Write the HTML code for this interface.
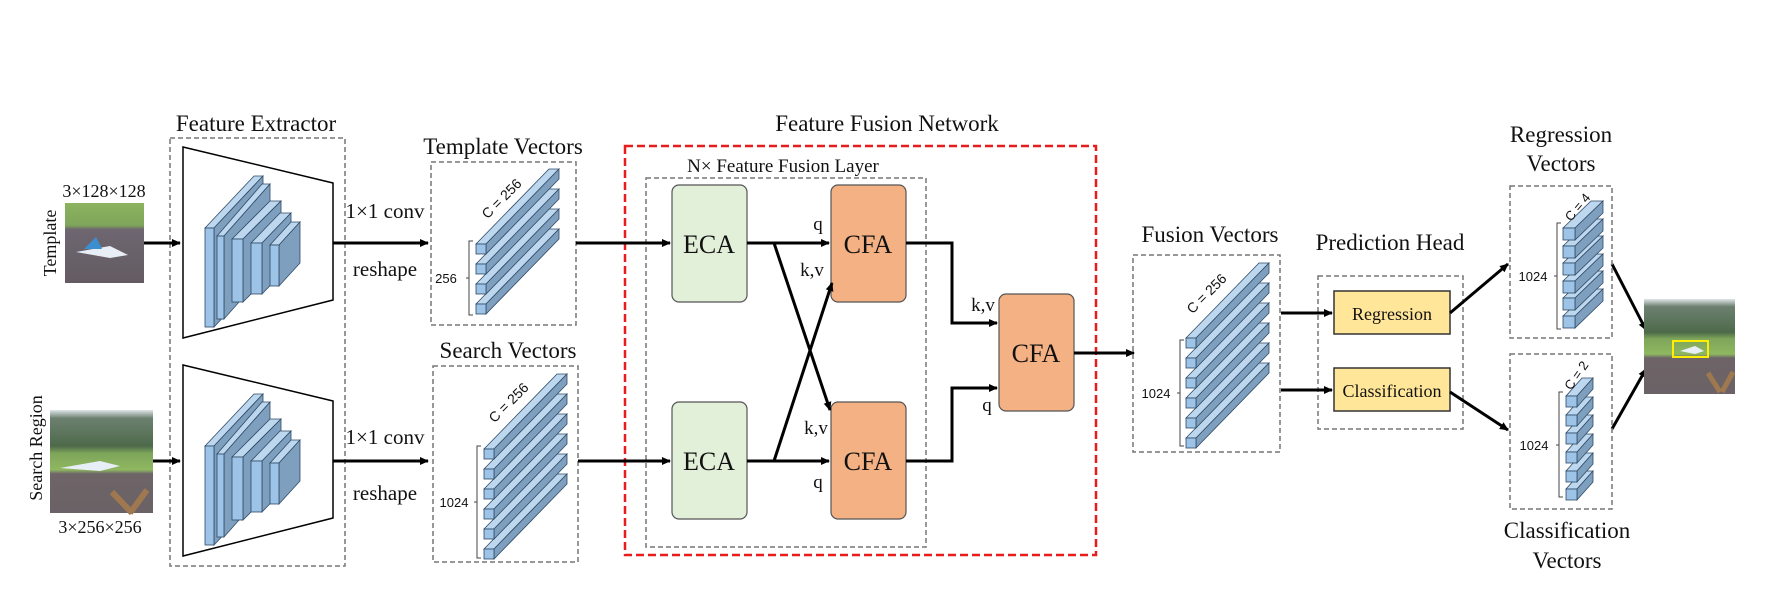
<!DOCTYPE html>
<html><head><meta charset="utf-8"><style>
html,body{margin:0;padding:0;background:#fff;}
svg{display:block;}
.t{font-family:"Liberation Serif",serif;fill:#111;}
.s{font-family:"Liberation Sans",sans-serif;fill:#111;}
</style></head><body>
<svg width="1768" height="603" viewBox="0 0 1768 603" xmlns="http://www.w3.org/2000/svg">
<defs>
<marker id="ah" markerWidth="10" markerHeight="10" refX="8" refY="5" orient="auto" markerUnits="userSpaceOnUse">
<path d="M0,1 L9,5 L0,9 z" fill="#000"/></marker>
<g id="bar">
<path d="M0,0 L73,-75 L83,-75 L10,0 z" fill="#bdd7ee" stroke="#2e4a66" stroke-width="0.8"/>
<path d="M10,0 L83,-75 L83,-65 L10,10 z" fill="#7f9fbf" stroke="#2e4a66" stroke-width="0.8"/>
<rect x="0" y="0" width="10" height="10" fill="#9dc3e6" stroke="#2e4a66" stroke-width="0.8"/>
</g>
<g id="bar4">
<path d="M0,0 L28,-27 L40,-27 L12,0 z" fill="#bdd7ee" stroke="#2e4a66" stroke-width="0.8"/>
<path d="M12,0 L40,-27 L40,-15 L12,12 z" fill="#7f9fbf" stroke="#2e4a66" stroke-width="0.8"/>
<rect x="0" y="0" width="12" height="12" fill="#9dc3e6" stroke="#2e4a66" stroke-width="0.8"/>
</g>
<g id="bar2">
<path d="M0,0 L16,-18 L27,-18 L11,0 z" fill="#bdd7ee" stroke="#2e4a66" stroke-width="0.8"/>
<path d="M11,0 L27,-18 L27,-7 L11,11 z" fill="#7f9fbf" stroke="#2e4a66" stroke-width="0.8"/>
<rect x="0" y="0" width="11" height="11" fill="#9dc3e6" stroke="#2e4a66" stroke-width="0.8"/>
</g>
<g id="cnn">
<path d="M183,147 L333,183 L333,300 L183,338 z" fill="#fff" stroke="#000" stroke-width="1.5"/>
<g stroke="#2e4a66" stroke-width="0.8">
<path d="M205,228 L254,176 L263,176 L214,228z" fill="#bdd7ee"/><path d="M214,228 L263,176 L263,275 L214,327z" fill="#7f9fbf"/><rect x="205" y="228" width="9" height="99" fill="#9dc3e6"/>
<path d="M217,236 L262,184 L270,184 L224,236z" fill="#bdd7ee"/><path d="M224,236 L270,184 L270,267 L224,319z" fill="#7f9fbf"/><rect x="217" y="236" width="7" height="83" fill="#9dc3e6"/>
<path d="M232,239 L270,201 L281,201 L243,239z" fill="#bdd7ee"/><path d="M243,239 L281,201 L281,264 L243,302z" fill="#7f9fbf"/><rect x="232" y="239" width="11" height="63" fill="#9dc3e6"/>
<path d="M251,243 L280,213 L291,213 L262,243z" fill="#bdd7ee"/><path d="M262,243 L291,213 L291,264 L262,294z" fill="#7f9fbf"/><rect x="251" y="243" width="11" height="51" fill="#9dc3e6"/>
<path d="M270,245 L291,222 L300,222 L279,245z" fill="#bdd7ee"/><path d="M279,245 L300,222 L300,263 L279,286z" fill="#7f9fbf"/><rect x="270" y="245" width="9" height="41" fill="#9dc3e6"/>
</g>
</g>
<linearGradient id="sky" x1="0" y1="0" x2="0" y2="1">
<stop offset="0" stop-color="#dfe6e8"/><stop offset="0.08" stop-color="#6d8070"/><stop offset="0.35" stop-color="#4d6a4a"/><stop offset="0.42" stop-color="#7ea55a"/><stop offset="0.58" stop-color="#8fb860"/><stop offset="0.62" stop-color="#6e6468"/><stop offset="1" stop-color="#6a6266"/></linearGradient>
<linearGradient id="tpl" x1="0" y1="0" x2="0" y2="1">
<stop offset="0" stop-color="#8db35f"/><stop offset="0.28" stop-color="#7ea55a"/><stop offset="0.33" stop-color="#6e6670"/><stop offset="1" stop-color="#645c62"/></linearGradient>
</defs>

<text class="t" x="256" y="131" font-size="23" text-anchor="middle">Feature Extractor</text>
<rect x="170" y="138" width="175" height="428" fill="none" stroke="#777" stroke-width="1.5" stroke-dasharray="5,3"/>
<use href="#cnn"/>
<use href="#cnn" transform="translate(0,218)"/>

<text class="t" x="104" y="197" font-size="18" text-anchor="middle">3×128×128</text>
<rect x="65" y="203" width="79" height="80" fill="url(#tpl)"/>
<path d="M76,252 L110,246 L128,255 L110,258 z" fill="#e8eef5"/><path d="M84,249 L96,237 L102,249 z" fill="#3b8fd0"/>
<text class="t" font-size="18" text-anchor="middle" transform="translate(56,243) rotate(-90)">Template</text>
<rect x="50" y="410" width="103" height="103" fill="url(#sky)"/>
<path d="M60,468 L100,461 L120,466 L100,471 z" fill="#e8eef5"/>
<path d="M112,492 L132,513 M147,490 L130,513" stroke="#a07850" stroke-width="6"/>
<text class="t" font-size="18" text-anchor="middle" transform="translate(42,448) rotate(-90)">Search Region</text>
<text class="t" x="100" y="533" font-size="18" text-anchor="middle">3×256×256</text>

<g stroke="#000" stroke-width="3" fill="none">
<line x1="144" y1="243" x2="180" y2="243" marker-end="url(#ah)"/>
<line x1="153" y1="461" x2="180" y2="461" marker-end="url(#ah)"/>
<line x1="333" y1="243" x2="428" y2="243" marker-end="url(#ah)"/>
<line x1="333" y1="461" x2="428" y2="461" marker-end="url(#ah)"/>
</g>
<text class="t" x="385" y="218" font-size="21" text-anchor="middle">1×1 conv</text>
<text class="t" x="385" y="276" font-size="21" text-anchor="middle">reshape</text>
<text class="t" x="385" y="444" font-size="21" text-anchor="middle">1×1 conv</text>
<text class="t" x="385" y="500" font-size="21" text-anchor="middle">reshape</text>

<text class="t" x="503" y="154" font-size="23" text-anchor="middle">Template Vectors</text>
<rect x="431" y="162" width="145" height="163" fill="none" stroke="#777" stroke-width="1.5" stroke-dasharray="5,3"/>
<use href="#bar" transform="translate(476,304)"/><use href="#bar" transform="translate(476,284)"/><use href="#bar" transform="translate(476,264)"/><use href="#bar" transform="translate(476,244)"/>
<path d="M473,241 L469,241 L469,315 L473,315 M466,278 L469,278" stroke="#444" stroke-width="1" fill="none"/>
<text class="s" x="446" y="283" font-size="13" text-anchor="middle">256</text>
<text class="s" font-size="14" text-anchor="middle" transform="translate(505,202) rotate(-45)">C = 256</text>

<text class="t" x="508" y="358" font-size="23" text-anchor="middle">Search Vectors</text>
<rect x="433" y="366" width="145" height="196" fill="none" stroke="#777" stroke-width="1.5" stroke-dasharray="5,3"/>
<use href="#bar" transform="translate(484,549)"/><use href="#bar" transform="translate(484,529)"/><use href="#bar" transform="translate(484,509)"/><use href="#bar" transform="translate(484,489)"/><use href="#bar" transform="translate(484,469)"/><use href="#bar" transform="translate(484,449)"/>
<path d="M481,446 L477,446 L477,558 L481,558 M474,502 L477,502" stroke="#444" stroke-width="1" fill="none"/>
<text class="s" x="454" y="507" font-size="13" text-anchor="middle">1024</text>
<text class="s" font-size="14" text-anchor="middle" transform="translate(512,406) rotate(-45)">C = 256</text>

<text class="t" x="887" y="131" font-size="23" text-anchor="middle">Feature Fusion Network</text>
<rect x="625" y="146" width="471" height="409" fill="none" stroke="#e81c1c" stroke-width="2.5" stroke-dasharray="8,4"/>
<rect x="646" y="178" width="280" height="369" fill="none" stroke="#777" stroke-width="1.5" stroke-dasharray="5,3"/>
<text class="t" x="783" y="172" font-size="19" text-anchor="middle">N× Feature Fusion Layer</text>
<g stroke="#555" stroke-width="1.2">
<rect x="672" y="185" width="75" height="117" rx="7" fill="#e2efd9"/>
<rect x="672" y="402" width="75" height="117" rx="7" fill="#e2efd9"/>
<rect x="831" y="185" width="75" height="117" rx="7" fill="#f4b183"/>
<rect x="831" y="402" width="75" height="117" rx="7" fill="#f4b183"/>
<rect x="999" y="294" width="75" height="117" rx="7" fill="#f4b183"/>
</g>
<g class="t" font-size="26" text-anchor="middle">
<text x="709" y="253">ECA</text><text x="709" y="470">ECA</text>
<text x="868" y="253">CFA</text><text x="868" y="470">CFA</text>
<text x="1036" y="362">CFA</text>
</g>
<g stroke="#000" stroke-width="3" fill="none">
<line x1="576" y1="243" x2="670" y2="243" marker-end="url(#ah)"/>
<line x1="578" y1="461" x2="670" y2="461" marker-end="url(#ah)"/>
<line x1="747" y1="243" x2="829" y2="243" marker-end="url(#ah)"/>
<line x1="747" y1="461" x2="829" y2="461" marker-end="url(#ah)"/>
<line x1="774" y1="243" x2="830" y2="410" marker-end="url(#ah)"/>
<line x1="774" y1="461" x2="832" y2="283" marker-end="url(#ah)"/>
<polyline points="906,243 952,243 952,323 997,323" marker-end="url(#ah)"/>
<polyline points="906,461 952,461 952,388 997,388" marker-end="url(#ah)"/>
<line x1="1074" y1="353" x2="1134" y2="353" marker-end="url(#ah)"/>
</g>
<g class="t" font-size="19" text-anchor="middle">
<text x="818" y="230">q</text><text x="812" y="276">k,v</text>
<text x="816" y="434">k,v</text><text x="818" y="488">q</text>
<text x="983" y="311">k,v</text><text x="987" y="411">q</text>
</g>

<text class="t" x="1210" y="242" font-size="23" text-anchor="middle">Fusion Vectors</text>
<rect x="1133" y="255" width="147" height="197" fill="none" stroke="#777" stroke-width="1.5" stroke-dasharray="5,3"/>
<use href="#bar" transform="translate(1186,438)"/><use href="#bar" transform="translate(1186,418)"/><use href="#bar" transform="translate(1186,398)"/><use href="#bar" transform="translate(1186,378)"/><use href="#bar" transform="translate(1186,358)"/><use href="#bar" transform="translate(1186,338)"/>
<path d="M1184,340 L1180,340 L1180,446 L1184,446 M1177,393 L1180,393" stroke="#444" stroke-width="1" fill="none"/>
<text class="s" x="1156" y="398" font-size="13" text-anchor="middle">1024</text>
<text class="s" font-size="14" text-anchor="middle" transform="translate(1210,297) rotate(-45)">C = 256</text>

<text class="t" x="1390" y="250" font-size="23" text-anchor="middle">Prediction Head</text>
<rect x="1318" y="276" width="145" height="153" fill="none" stroke="#777" stroke-width="1.5" stroke-dasharray="5,3"/>
<rect x="1334" y="291" width="116" height="43" fill="#ffe699" stroke="#333" stroke-width="1.5"/>
<rect x="1334" y="368" width="116" height="43" fill="#ffe699" stroke="#333" stroke-width="1.5"/>
<text class="t" x="1392" y="320" font-size="18" text-anchor="middle">Regression</text>
<text class="t" x="1392" y="397" font-size="18" text-anchor="middle">Classification</text>
<g stroke="#000" stroke-width="3" fill="none">
<line x1="1281" y1="313" x2="1332" y2="313" marker-end="url(#ah)"/>
<line x1="1281" y1="390" x2="1332" y2="390" marker-end="url(#ah)"/>
<line x1="1450" y1="313" x2="1508" y2="264" marker-end="url(#ah)"/>
<line x1="1450" y1="392" x2="1508" y2="430" marker-end="url(#ah)"/>
<line x1="1612" y1="264" x2="1646" y2="330" marker-end="url(#ah)"/>
<line x1="1612" y1="429" x2="1646" y2="369" marker-end="url(#ah)"/>
</g>

<text class="t" x="1561" y="142" font-size="23" text-anchor="middle">Regression</text>
<text class="t" x="1561" y="171" font-size="23" text-anchor="middle">Vectors</text>
<rect x="1510" y="186" width="102" height="152" fill="none" stroke="#777" stroke-width="1.5" stroke-dasharray="5,3"/>
<use href="#bar4" transform="translate(1563,316)"/><use href="#bar4" transform="translate(1563,298)"/><use href="#bar4" transform="translate(1563,281)"/><use href="#bar4" transform="translate(1563,263)"/><use href="#bar4" transform="translate(1563,246)"/><use href="#bar4" transform="translate(1563,228)"/>
<path d="M1561,223 L1557,223 L1557,329 L1561,329 M1554,276 L1557,276" stroke="#444" stroke-width="1" fill="none"/>
<text class="s" x="1533" y="281" font-size="13" text-anchor="middle">1024</text>
<text class="s" font-size="13" text-anchor="middle" transform="translate(1581,210) rotate(-50)">C = 4</text>

<rect x="1510" y="354" width="102" height="155" fill="none" stroke="#777" stroke-width="1.5" stroke-dasharray="5,3"/>
<use href="#bar2" transform="translate(1566,489)"/><use href="#bar2" transform="translate(1566,471)"/><use href="#bar2" transform="translate(1566,452)"/><use href="#bar2" transform="translate(1566,433)"/><use href="#bar2" transform="translate(1566,415)"/><use href="#bar2" transform="translate(1566,396)"/>
<path d="M1563,392 L1559,392 L1559,497 L1563,497 M1556,445 L1559,445" stroke="#444" stroke-width="1" fill="none"/>
<text class="s" x="1534" y="450" font-size="13" text-anchor="middle">1024</text>
<text class="s" font-size="13" text-anchor="middle" transform="translate(1580,378) rotate(-55)">C = 2</text>
<text class="t" x="1567" y="538" font-size="23" text-anchor="middle">Classification</text>
<text class="t" x="1567" y="568" font-size="23" text-anchor="middle">Vectors</text>

<rect x="1644" y="299" width="91" height="95" fill="url(#sky)"/>
<path d="M1680,351 L1695,346 L1704,351 L1695,354 z" fill="#e8eef5"/>
<rect x="1673" y="341" width="35" height="16" fill="none" stroke="#ffee00" stroke-width="2"/>
<path d="M1708,373 L1720,392 M1733,372 L1722,392" stroke="#a07850" stroke-width="5"/>
</svg>
</body></html>
